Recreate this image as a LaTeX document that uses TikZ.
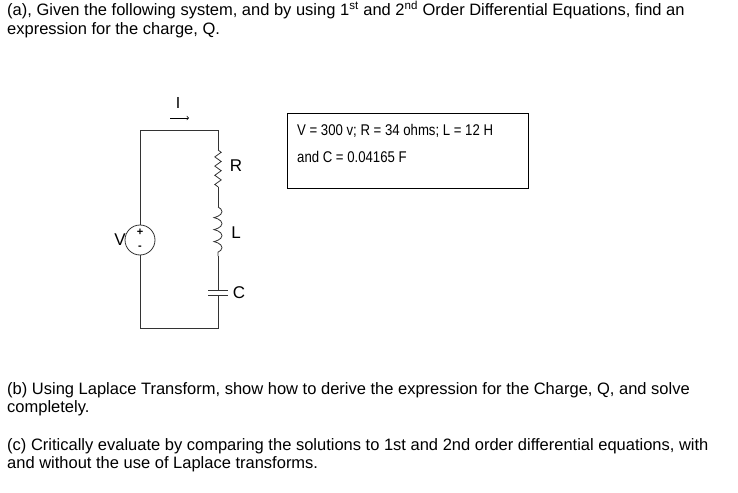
\documentclass[tikz,border=0pt]{standalone}
\usepackage{fontspec}
\setmainfont{Liberation Sans}
\usetikzlibrary{decorations.pathmorphing}
\begin{document}
\begin{tikzpicture}[x=1pt,y=-1pt,
  txt/.style={anchor=north west,inner sep=0pt,align=left,font=\fontsize{16.5}{18.5}\selectfont},
  wire/.style={line width=0.8pt,black!80},
  lab/.style={inner sep=0pt,font=\fontsize{17}{17}\selectfont}]
\useasboundingbox (0,0) rectangle (738,492);
\node[txt] (ta) at (7,1) {(a), Given the following system, and by using 1\textsuperscript{st} and 2\textsuperscript{nd} Order Differential Equations, find an\\expression for the charge, Q.};
\node[txt] (tb) at (7,382) {(b) Using Laplace Transform, show how to derive the expression for the Charge, Q, and solve\\completely.};
\node[txt] (tc) at (7,438) {(c) Critically evaluate by comparing the solutions to 1st and 2nd order differential equations, with\\and without the use of Laplace transforms.};
% box
\node[draw,line width=0.8pt,minimum width=241,minimum height=75,anchor=north west,inner sep=0pt] (box) at (287,113) {};
\node[anchor=west,inner sep=0pt,font=\fontsize{15.5}{15.5}\selectfont,xscale=0.85] (b1) at (297,131) {V = 300 v; R = 34 ohms; L = 12 H};
\node[anchor=west,inner sep=0pt,font=\fontsize{15.5}{15.5}\selectfont,xscale=0.85] (b2) at (297,157) {and C = 0.04165 F};
% circuit
\coordinate (tl) at (140,130);
\coordinate (tr) at (218,130);
\coordinate (bl) at (140,328);
\coordinate (br) at (218,328);
\node[draw,circle,wire,minimum size=30,inner sep=0pt] (src) at (140,240) {};
\node[inner sep=0pt,font=\fontsize{11}{11}\selectfont\bfseries] (pl) at (140,232) {+};
\node[inner sep=0pt,font=\fontsize{11}{11}\selectfont\bfseries] (mi) at (140,248) {-};
\node[lab,anchor=east] (vl) at (126,240) {V};
\coordinate (r1) at (218,150);
\coordinate (r2) at (218,187);
\coordinate (l1) at (218,207);
\coordinate (l2) at (218,256);
\coordinate (c1) at (218,290);
\coordinate (c2) at (218,295);
\draw[wire] (src.north) -- (tl) -- (tr) -- (r1);
\draw[wire,decoration={zigzag,segment length=9.2,amplitude=3.2},decorate] (r1) -- (r2);
\draw[wire] (r2) -- (l1);
\draw[wire,decoration={coil,aspect=0.4,segment length=12,amplitude=4},decorate] (l1) -- (l2);
\draw[wire] (l2) -- (c1);
\draw[wire] (208,290) -- (228,290) (208,295) -- (228,295);
\draw[wire] (c2) -- (br) -- (bl) -- (src.south);
\node[lab] (rl) at (236,166) {R};
\node[lab] (ll) at (236,233) {L};
\node[lab] (cl) at (239,293) {C};
\node[inner sep=0pt,font=\fontsize{16}{16}\selectfont\rmfamily] (il) at (178,103) {I};
\coordinate (a1) at (170,118);
\coordinate (a2) at (189,118);
\draw[line width=0.7pt,->] (a1) -- (a2);
\end{tikzpicture}
\end{document}
